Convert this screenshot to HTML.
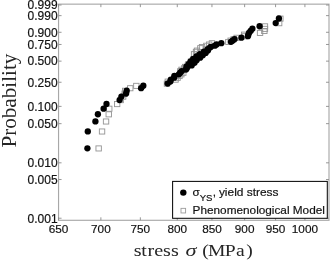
<!DOCTYPE html><html><head><meta charset="utf-8"><title>Probability plot</title><style>html,body{margin:0;padding:0;background:#fff}svg{display:block}text{font-family:"Liberation Sans",Arial,sans-serif;font-size:11.75px;fill:#111;stroke:#111;stroke-width:0.18px}.s{font-family:"Liberation Serif","Times New Roman",serif;stroke:none;fill:#262626}</style></head><body>
<svg width="331" height="262" viewBox="0 0 331 262">
<rect width="331" height="262" fill="#fff"/>
<g stroke="#a8a8a8" stroke-width="1.15" fill="none">
<rect x="58.55" y="4.15" width="270.45" height="216.15"/>
<path d="M58.55 5.00h3M329.0 5.00h-3" stroke="#8c8c8c" stroke-width="0.9"/>
<path d="M58.55 15.64h3M329.0 15.64h-3" stroke="#8c8c8c" stroke-width="0.9"/>
<path d="M58.55 32.29h3M329.0 32.29h-3" stroke="#8c8c8c" stroke-width="0.9"/>
<path d="M58.55 44.48h3M329.0 44.48h-3" stroke="#8c8c8c" stroke-width="0.9"/>
<path d="M58.55 61.13h3M329.0 61.13h-3" stroke="#8c8c8c" stroke-width="0.9"/>
<path d="M58.55 82.25h3M329.0 82.25h-3" stroke="#8c8c8c" stroke-width="0.9"/>
<path d="M58.55 106.38h3M329.0 106.38h-3" stroke="#8c8c8c" stroke-width="0.9"/>
<path d="M58.55 123.67h3M329.0 123.67h-3" stroke="#8c8c8c" stroke-width="0.9"/>
<path d="M58.55 162.82h3M329.0 162.82h-3" stroke="#8c8c8c" stroke-width="0.9"/>
<path d="M58.55 179.53h3M329.0 179.53h-3" stroke="#8c8c8c" stroke-width="0.9"/>
<path d="M58.55 218.23h3M329.0 218.23h-3" stroke="#8c8c8c" stroke-width="0.9"/>
<path d="M58.50 220.3v-3M58.50 4.15v3" stroke="#8c8c8c" stroke-width="0.9"/>
<path d="M100.89 220.3v-3M100.89 4.15v3" stroke="#8c8c8c" stroke-width="0.9"/>
<path d="M140.35 220.3v-3M140.35 4.15v3" stroke="#8c8c8c" stroke-width="0.9"/>
<path d="M177.27 220.3v-3M177.27 4.15v3" stroke="#8c8c8c" stroke-width="0.9"/>
<path d="M211.95 220.3v-3M211.95 4.15v3" stroke="#8c8c8c" stroke-width="0.9"/>
<path d="M244.64 220.3v-3M244.64 4.15v3" stroke="#8c8c8c" stroke-width="0.9"/>
<path d="M275.57 220.3v-3M275.57 4.15v3" stroke="#8c8c8c" stroke-width="0.9"/>
<path d="M304.91 220.3v-3M304.91 4.15v3" stroke="#8c8c8c" stroke-width="0.9"/>
</g>
<text x="57.6" y="9.30" style="font-size:12px" text-anchor="end">0.999</text>
<text x="57.6" y="19.94" style="font-size:12px" text-anchor="end">0.990</text>
<text x="57.6" y="36.59" style="font-size:12px" text-anchor="end">0.900</text>
<text x="57.6" y="48.78" style="font-size:12px" text-anchor="end">0.750</text>
<text x="57.6" y="65.43" style="font-size:12px" text-anchor="end">0.500</text>
<text x="57.6" y="86.55" style="font-size:12px" text-anchor="end">0.250</text>
<text x="57.6" y="110.68" style="font-size:12px" text-anchor="end">0.100</text>
<text x="57.6" y="127.97" style="font-size:12px" text-anchor="end">0.050</text>
<text x="57.6" y="167.12" style="font-size:12px" text-anchor="end">0.010</text>
<text x="57.6" y="183.83" style="font-size:12px" text-anchor="end">0.005</text>
<text x="57.6" y="222.53" style="font-size:12px" text-anchor="end">0.001</text>
<text x="58.50" y="233.1" text-anchor="middle">650</text>
<text x="100.89" y="233.1" text-anchor="middle">700</text>
<text x="140.35" y="233.1" text-anchor="middle">750</text>
<text x="177.27" y="233.1" text-anchor="middle">800</text>
<text x="211.95" y="233.1" text-anchor="middle">850</text>
<text x="244.64" y="233.1" text-anchor="middle">900</text>
<text x="275.57" y="233.1" text-anchor="middle">950</text>
<text x="304.91" y="233.1" text-anchor="middle">1000</text>
<g fill="none" stroke="#939393" stroke-width="0.9">
<rect x="95.95" y="145.88" width="5.4" height="5.1"/>
<rect x="99.35" y="128.95" width="5.4" height="5.1"/>
<rect x="103.35" y="118.95" width="5.4" height="5.1"/>
<rect x="106.05" y="111.79" width="5.4" height="5.1"/>
<rect x="106.55" y="106.18" width="5.4" height="5.1"/>
<rect x="114.45" y="101.54" width="5.4" height="5.1"/>
<rect x="117.95" y="97.59" width="5.4" height="5.1"/>
<rect x="120.45" y="94.12" width="5.4" height="5.1"/>
<rect x="121.95" y="91.03" width="5.4" height="5.1"/>
<rect x="122.45" y="88.23" width="5.4" height="5.1"/>
<rect x="127.55" y="85.68" width="5.4" height="5.1"/>
<rect x="133.65" y="83.31" width="5.4" height="5.1"/>
<rect x="164.25" y="81.11" width="5.4" height="5.1"/>
<rect x="165.11" y="79.05" width="5.4" height="5.1"/>
<rect x="172.84" y="77.10" width="5.4" height="5.1"/>
<rect x="174.86" y="75.26" width="5.4" height="5.1"/>
<rect x="176.77" y="73.50" width="5.4" height="5.1"/>
<rect x="178.60" y="71.83" width="5.4" height="5.1"/>
<rect x="180.57" y="70.22" width="5.4" height="5.1"/>
<rect x="177.60" y="68.66" width="5.4" height="5.1"/>
<rect x="178.84" y="67.17" width="5.4" height="5.1"/>
<rect x="181.45" y="65.72" width="5.4" height="5.1"/>
<rect x="182.45" y="64.31" width="5.4" height="5.1"/>
<rect x="185.12" y="62.93" width="5.4" height="5.1"/>
<rect x="185.70" y="61.59" width="5.4" height="5.1"/>
<rect x="187.85" y="60.28" width="5.4" height="5.1"/>
<rect x="188.30" y="58.99" width="5.4" height="5.1"/>
<rect x="190.24" y="57.73" width="5.4" height="5.1"/>
<rect x="191.08" y="56.48" width="5.4" height="5.1"/>
<rect x="193.56" y="55.25" width="5.4" height="5.1"/>
<rect x="194.35" y="54.04" width="5.4" height="5.1"/>
<rect x="196.62" y="52.83" width="5.4" height="5.1"/>
<rect x="191.36" y="51.63" width="5.4" height="5.1"/>
<rect x="201.58" y="50.44" width="5.4" height="5.1"/>
<rect x="193.32" y="49.25" width="5.4" height="5.1"/>
<rect x="194.32" y="48.06" width="5.4" height="5.1"/>
<rect x="203.56" y="46.86" width="5.4" height="5.1"/>
<rect x="197.65" y="45.66" width="5.4" height="5.1"/>
<rect x="199.35" y="44.44" width="5.4" height="5.1"/>
<rect x="203.65" y="43.22" width="5.4" height="5.1"/>
<rect x="206.45" y="41.97" width="5.4" height="5.1"/>
<rect x="209.25" y="40.70" width="5.4" height="5.1"/>
<rect x="225.65" y="39.40" width="5.4" height="5.1"/>
<rect x="227.95" y="38.06" width="5.4" height="5.1"/>
<rect x="230.95" y="36.67" width="5.4" height="5.1"/>
<rect x="233.95" y="35.23" width="5.4" height="5.1"/>
<rect x="241.95" y="33.71" width="5.4" height="5.1"/>
<rect x="241.45" y="32.09" width="5.4" height="5.1"/>
<rect x="257.35" y="30.35" width="5.4" height="5.1"/>
<rect x="261.65" y="28.45" width="5.4" height="5.1"/>
<rect x="262.25" y="26.30" width="5.4" height="5.1"/>
<rect x="262.25" y="23.79" width="5.4" height="5.1"/>
<rect x="276.45" y="20.65" width="5.4" height="5.1"/>
<rect x="277.65" y="16.07" width="5.4" height="5.1"/>
</g>
<g fill="#000">
<circle cx="87.40" cy="148.33" r="3.15"/>
<circle cx="87.80" cy="131.40" r="3.15"/>
<circle cx="95.40" cy="121.40" r="3.15"/>
<circle cx="97.90" cy="114.24" r="3.15"/>
<circle cx="103.60" cy="108.63" r="3.15"/>
<circle cx="106.50" cy="103.99" r="3.15"/>
<circle cx="119.60" cy="100.04" r="3.15"/>
<circle cx="121.40" cy="96.57" r="3.15"/>
<circle cx="126.10" cy="93.48" r="3.15"/>
<circle cx="126.70" cy="90.68" r="3.15"/>
<circle cx="141.10" cy="88.13" r="3.15"/>
<circle cx="143.30" cy="85.76" r="3.15"/>
<circle cx="167.60" cy="83.56" r="3.15"/>
<circle cx="170.37" cy="81.50" r="3.15"/>
<circle cx="170.82" cy="79.55" r="3.15"/>
<circle cx="174.09" cy="77.71" r="3.15"/>
<circle cx="174.38" cy="75.95" r="3.15"/>
<circle cx="178.86" cy="74.28" r="3.15"/>
<circle cx="180.22" cy="72.67" r="3.15"/>
<circle cx="181.75" cy="71.11" r="3.15"/>
<circle cx="185.99" cy="69.62" r="3.15"/>
<circle cx="186.80" cy="68.17" r="3.15"/>
<circle cx="186.40" cy="66.76" r="3.15"/>
<circle cx="191.67" cy="65.38" r="3.15"/>
<circle cx="188.65" cy="64.04" r="3.15"/>
<circle cx="194.50" cy="62.73" r="3.15"/>
<circle cx="190.65" cy="61.44" r="3.15"/>
<circle cx="196.59" cy="60.18" r="3.15"/>
<circle cx="193.23" cy="58.93" r="3.15"/>
<circle cx="200.11" cy="57.70" r="3.15"/>
<circle cx="196.50" cy="56.49" r="3.15"/>
<circle cx="202.77" cy="55.28" r="3.15"/>
<circle cx="199.84" cy="54.08" r="3.15"/>
<circle cx="205.63" cy="52.89" r="3.15"/>
<circle cx="203.93" cy="51.70" r="3.15"/>
<circle cx="207.92" cy="50.51" r="3.15"/>
<circle cx="207.61" cy="49.31" r="3.15"/>
<circle cx="209.34" cy="48.11" r="3.15"/>
<circle cx="210.70" cy="46.89" r="3.15"/>
<circle cx="214.80" cy="45.67" r="3.15"/>
<circle cx="216.60" cy="44.42" r="3.15"/>
<circle cx="221.30" cy="43.15" r="3.15"/>
<circle cx="231.00" cy="41.85" r="3.15"/>
<circle cx="232.80" cy="40.51" r="3.15"/>
<circle cx="234.60" cy="39.12" r="3.15"/>
<circle cx="241.40" cy="37.68" r="3.15"/>
<circle cx="247.90" cy="36.16" r="3.15"/>
<circle cx="248.40" cy="34.54" r="3.15"/>
<circle cx="249.00" cy="32.80" r="3.15"/>
<circle cx="250.60" cy="30.90" r="3.15"/>
<circle cx="252.40" cy="28.75" r="3.15"/>
<circle cx="259.60" cy="26.24" r="3.15"/>
<circle cx="275.70" cy="23.10" r="3.15"/>
<circle cx="278.90" cy="18.52" r="3.15"/>
</g>
<rect x="172.6" y="181.4" width="154.7" height="36.9" fill="#fff" stroke="#0a0a0a" stroke-width="1.05"/>
<circle cx="183.3" cy="192.6" r="3.2" fill="#000"/>
<rect x="181.0" y="208.35" width="4.6" height="4.6" fill="none" stroke="#9c9c9c" stroke-width="0.9"/>
<text transform="translate(192.4 195.5) scale(1 1)">σ<tspan style="font-size:9.5px" dy="5.8">YS</tspan><tspan dy="-4.9" dx="0.5">,</tspan></text><text transform="translate(218.9 195.5) scale(1 1)" textLength="59.6" lengthAdjust="spacingAndGlyphs">yield stress</text>
<text transform="translate(192.6 214.2) scale(1 1)" textLength="132.3" lengthAdjust="spacingAndGlyphs">Phenomenological Model</text>
<text class="s" transform="translate(134.6 256) scale(1.15 1)" style="font-size:17.5px" x="-0.73 5.77 11.13 17.13 24.67 31.7">stress</text>
<text class="s" x="185.6" y="256" style="font-size:17.5px;font-style:italic" textLength="11" lengthAdjust="spacingAndGlyphs">σ</text>
<text class="s" transform="translate(203 256) scale(1.12 1)" style="font-size:17.5px" x="-0.62 4.53 19.36 29.53 38.6">(MPa)</text>
<text class="s" transform="translate(16.3 147.6) rotate(-90)" style="font-size:20px" textLength="94" lengthAdjust="spacingAndGlyphs">Probability</text>
</svg></body></html>
